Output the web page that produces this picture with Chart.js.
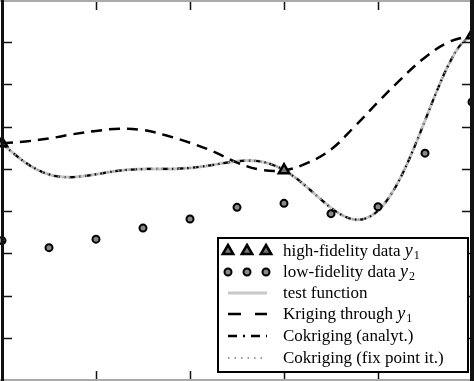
<!DOCTYPE html>
<html>
<head>
<meta charset="utf-8">
<script src="https://cdn.jsdelivr.net/npm/chart.js@4"></script>
<style>
html,body{margin:0;padding:0;background:#fff;}
#wrap{width:474px;height:381px;position:relative;}
</style>
</head>
<body>
<div id="wrap"><canvas id="c" width="474" height="381"></canvas></div>
<script>
// ---- data ----
const xFine = [0,0.025,0.05,0.075,0.1,0.125,0.15,0.175,0.2,0.225,0.25,0.275,0.3,0.325,0.35,0.375,0.4,0.425,0.45,0.475,0.5,0.525,0.55,0.575,0.6,0.625,0.65,0.675,0.7,0.725,0.75,0.775,0.8,0.825,0.85,0.875,0.9,0.925,0.95,0.975,1];
const testFunction = [3.03,1.81,0.74,-0.10,-0.66,-0.94,-0.98,-0.85,-0.64,-0.41,-0.21,-0.08,-0.02,0.00,0.00,0.03,0.11,0.27,0.48,0.72,0.91,0.99,0.87,0.50,-0.15,-1.07,-2.21,-3.44,-4.61,-5.52,-5.99,-5.84,-4.95,-3.25,-0.80,2.27,5.71,9.19,12.30,14.65,15.83];
const cokrigAnalyt = [3.03,1.82,0.75,-0.09,-0.65,-0.93,-0.98,-0.85,-0.64,-0.41,-0.21,-0.08,-0.02,0.00,0.00,0.03,0.11,0.27,0.48,0.72,0.91,0.99,0.87,0.50,-0.15,-1.07,-2.21,-3.44,-4.61,-5.52,-5.99,-5.84,-4.95,-3.25,-0.80,2.27,5.71,9.19,12.30,14.65,15.83];
const cokrigFix = [3.03,1.82,0.75,-0.09,-0.65,-0.93,-0.98,-0.85,-0.64,-0.41,-0.21,-0.08,-0.02,0.00,0.00,0.03,0.11,0.27,0.48,0.72,0.91,0.99,0.87,0.50,-0.15,-1.07,-2.21,-3.44,-4.61,-5.52,-5.99,-5.84,-4.95,-3.25,-0.80,2.27,5.71,9.19,12.30,14.65,15.83];
const xKrig = [0,0.05,0.1,0.15,0.2,0.25,0.3,0.35,0.4,0.45,0.5,0.55,0.6,0.65,0.7,0.75,0.8,0.85,0.9,0.95,1];
const kriging = [3.03,3.25,3.6,4.1,4.5,4.75,4.6,3.95,3.1,2.05,0.75,-0.1,-0.15,0.7,2.3,5.0,7.9,10.7,13.2,15.0,15.83];
const xHigh = [0,0.6,1];
const yHigh = [3.03,-0.15,15.83];
const xLow = [0,0.1,0.2,0.3,0.4,0.5,0.6,0.7,0.8,0.9,1];
const yLow = [-8.49,-9.33,-8.32,-7.01,-5.94,-4.55,-4.08,-5.30,-4.48,1.86,7.92];
const xTicks = [0.2,0.4,0.6,0.8];
const yTicks = [15,10,5,0,-5,-10,-15,-20];
const legendLabels = [
  [["high-fidelity data ",0],["y",1],["1",2]],
  [["low-fidelity data ",0],["y",1],["2",2]],
  [["test function",0]],
  [["Kriging through ",0],["y",1],["1",2]],
  [["Cokriging (analyt.)",0]],
  [["Cokriging (fix point it.)",0]]
];

const pts = (xs, ys) => xs.map((x,i)=>({x:x,y:ys[i]}));

const frame = {
  id:'frame',
  afterDraw(chart){
    const ctx = chart.ctx, xs = chart.scales.x, ys = chart.scales.y;
    ctx.save();
    // borders
    ctx.fillStyle = '#aaaaaa';
    ctx.fillRect(0,0,474,2);
    ctx.fillRect(0,379,474,2);
    ctx.fillStyle = '#111';
    ctx.fillRect(1,0,3,381);
    ctx.fillRect(470,0,4,381);
    // ticks
    ctx.strokeStyle = '#111'; ctx.lineWidth = 1.5;
    ctx.beginPath();
    yTicks.forEach(v=>{
      const p = Math.round(ys.getPixelForValue(v))+0.5;
      ctx.moveTo(4,p); ctx.lineTo(12,p);
      ctx.moveTo(462,p); ctx.lineTo(470,p);
    });
    xTicks.forEach(v=>{
      const p = Math.round(xs.getPixelForValue(v))+0.5;
      ctx.moveTo(p,2); ctx.lineTo(p,10);
      ctx.moveTo(p,371); ctx.lineTo(p,379);
    });
    ctx.stroke();
    // legend box
    const LX=218, LY=238, LW=250, LH=134;
    ctx.fillStyle='#fff'; ctx.fillRect(LX,LY,LW,LH);
    ctx.strokeStyle='#000'; ctx.lineWidth=2; ctx.strokeRect(LX,LY,LW,LH);
    const rows=[251,272,293,314,336,358];
    const mx=[228,247,266];
    // triangles
    mx.forEach(x=>{
      const r=6, y=rows[0];
      ctx.beginPath();
      ctx.moveTo(x,y-r); ctx.lineTo(x+r*0.87,y+r*0.5); ctx.lineTo(x-r*0.87,y+r*0.5); ctx.closePath();
      ctx.fillStyle='#777'; ctx.fill(); ctx.lineWidth=2.5; ctx.strokeStyle='#000'; ctx.stroke();
    });
    mx.forEach(x=>{
      ctx.beginPath(); ctx.arc(x,rows[1],3.5,0,Math.PI*2);
      ctx.fillStyle='#888'; ctx.fill(); ctx.lineWidth=2; ctx.strokeStyle='#000'; ctx.stroke();
    });
    const seg=(y,color,w,dash)=>{ctx.beginPath();ctx.setLineDash(dash);ctx.strokeStyle=color;ctx.lineWidth=w;ctx.moveTo(228,y);ctx.lineTo(267,y);ctx.stroke();ctx.setLineDash([]);};
    seg(rows[2],'#c8c8c8',3,[]);
    seg(rows[3],'#000',2.5,[13,14]);
    seg(rows[4],'#000',2.5,[9,6,2,6]);
    seg(rows[5],'#999',2,[1.5,5]);
    // labels
    ctx.fillStyle='#000'; ctx.textBaseline='alphabetic';
    const fam='"Liberation Serif", "DejaVu Serif", serif';
    legendLabels.forEach((parts,i)=>{
      let x=283; const y=rows[i]+5;
      parts.forEach(([t,k])=>{
        if(k===0) ctx.font='17px '+fam;
        else if(k===1) ctx.font='italic 18px '+fam;
        else ctx.font='12px '+fam;
        ctx.fillText(t,x,k===2?y+3:y);
        x+=ctx.measureText(t).width+(k===1?1:0);
      });
    });
    ctx.restore();
  }
};

new Chart(document.getElementById('c'),{
  type:'scatter',
  data:{datasets:[
    {label:'high-fidelity data', data:pts(xHigh,yHigh), pointStyle:'triangle', pointRadius:6, backgroundColor:'#777', borderColor:'#000', borderWidth:2.5, order:0, clip:false},
    {label:'low-fidelity data', data:pts(xLow,yLow), pointStyle:'circle', pointRadius:3.5, backgroundColor:'#888', borderColor:'#000', borderWidth:2, order:1, clip:false},
    {label:'Cokriging (fix point it.)', data:pts(xFine,cokrigFix), showLine:true, pointRadius:0, borderColor:'#999', borderWidth:2, borderDash:[1.5,4], tension:0.4, order:2},
    {label:'Cokriging (analyt.)', data:pts(xFine,cokrigAnalyt), showLine:true, pointRadius:0, borderColor:'#000', borderWidth:2.2, borderDash:[6,4,1.5,4], tension:0.4, order:3},
    {label:'Kriging through y1', data:pts(xKrig,kriging), showLine:true, pointRadius:0, borderColor:'#000', borderWidth:2.5, borderDash:[11,7], tension:0.4, order:4},
    {label:'test function', data:pts(xFine,testFunction), showLine:true, pointRadius:0, borderColor:'#c8c8c8', borderWidth:3, tension:0.4, order:5}
  ]},
  options:{
    responsive:false, animation:false, devicePixelRatio:1,
    layout:{autoPadding:false, padding:{left:2,right:2,top:0,bottom:1}},
    plugins:{legend:{display:false}, tooltip:{enabled:false}},
    scales:{
      x:{type:'linear', min:0, max:1, display:false},
      y:{type:'linear', min:-25, max:20, display:false}
    }
  },
  plugins:[frame]
});
</script>
</body>
</html>
